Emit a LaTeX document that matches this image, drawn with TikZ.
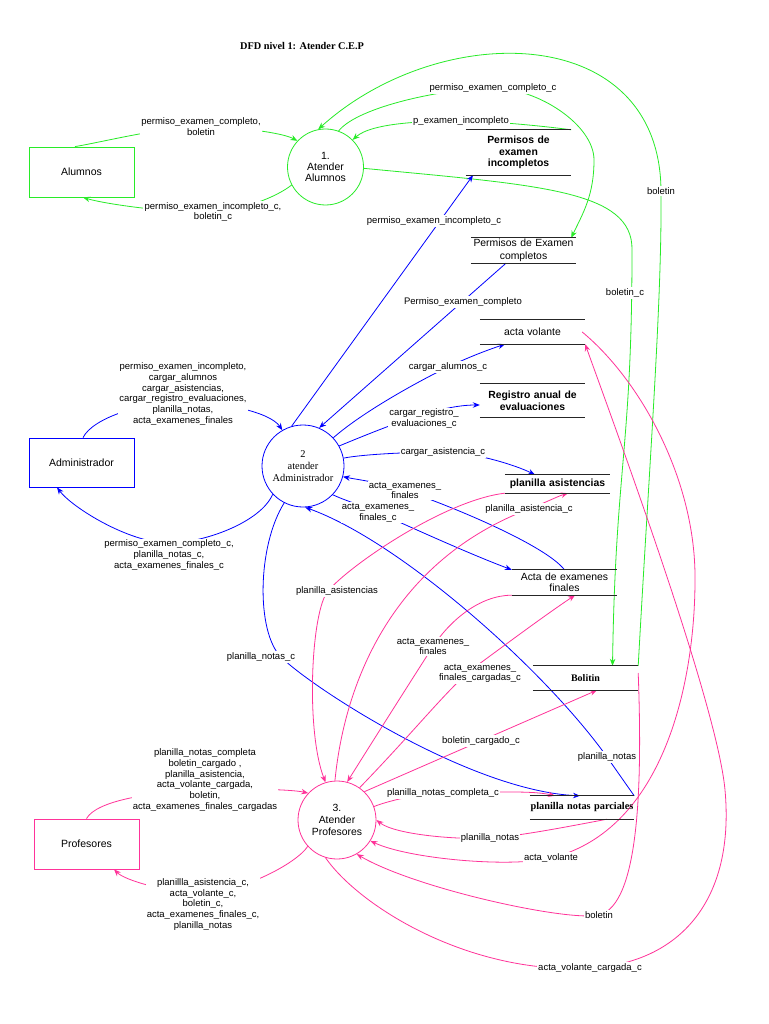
\documentclass[tikz,border=0pt]{standalone}
\usepackage{fontspec}
\setmainfont{Liberation Sans}
\newfontfamily\tnr{Liberation Serif}
\usetikzlibrary{arrows.meta,calc}
\definecolor{cG}{RGB}{40,235,40}
\definecolor{cB}{RGB}{0,0,255}
\definecolor{cP}{RGB}{255,51,153}
\newcommand\lblf{\fontsize{9.5}{10.8}\selectfont}
\newcommand\boxf{\fontsize{10.5}{11.5}\selectfont}
\pgfdeclarelayer{back}
\pgfdeclarelayer{bg}
\pgfsetlayers{back,bg,main}
\begin{document}
\begin{tikzpicture}[x=1pt,y=-1pt,
  lbl/.style={font=\lblf, fill=white, inner sep=1.2pt, align=center},
  ext/.style={draw, rectangle, minimum width=105pt, minimum height=50pt, inner sep=0pt, font=\boxf, line width=0.8pt},
  proc/.style={draw, circle, inner sep=0pt, line width=0.8pt, align=center},
  dstore/.style={inner sep=0pt, text width=105pt, align=center},
  arr/.style={line width=0.8pt, -{Stealth[length=7pt,width=5.5pt]}}
]
\begin{pgfonlayer}{back}
\fill[white] (0,0) rectangle (768,1024);
\end{pgfonlayer}
\useasboundingbox (0,0) rectangle (768,1024);

% title
\node[font=\tnr\bfseries\fontsize{10.3}{12}\selectfont] (title) at (302,46) {DFD nivel 1: Atender C.E.P};

% externals
\node[ext, draw=cG] (alumnos) at (81.5,172) {Alumnos};
\node[ext, draw=cB, minimum height=49pt] (admin) at (81.5,462.5) {Administrador};
\node[ext, draw=cP] (prof) at (86.5,844) {Profesores};

% processes
\node[proc, draw=cG, minimum size=76pt, font=\fontsize{10.5}{11}\selectfont] (p1) at (325.5,167) {1.\\Atender\\Alumnos};
\node[proc, draw=cB, minimum size=82pt, font=\tnr\fontsize{10.4}{12}\selectfont] (p2) at (303,466) {2\\atender\\Administrador};
\node[proc, draw=cP, minimum size=78pt, font=\fontsize{10.4}{12}\selectfont] (p3) at (337,820) {3.\\Atender\\Profesores};

% data stores
\node[dstore, minimum height=45pt, font=\bfseries\fontsize{10.4}{11.5}\selectfont] (s1) at (518.5,152.5) {Permisos de\\examen\\incompletos};
\node[dstore, minimum height=25pt, font=\fontsize{10.4}{13}\selectfont] (s2) at (523.5,250.5) {Permisos de Examen\\completos};
\node[dstore, minimum height=24pt, font=\fontsize{10.4}{12}\selectfont] (s3) at (532.5,332) {acta volante};
\node[dstore, minimum height=33pt, font=\bfseries\fontsize{10.4}{12}\selectfont] (s4) at (532.5,400.5) {Registro anual de\\evaluaciones};
\node[dstore, minimum height=18pt, font=\bfseries\fontsize{10.4}{12}\selectfont] (s5) at (557.5,484) {planilla asistencias};
\node[dstore, minimum height=25pt, font=\fontsize{10.4}{11.5}\selectfont] (s6) at (564.5,582.5) {Acta de examenes\\finales};
\node[dstore, minimum height=24pt, font=\tnr\bfseries\fontsize{10}{12}\selectfont] (s7) at (585.5,678) {Bolitin};
\node[dstore, text width=104pt, minimum height=23pt, font=\tnr\bfseries\fontsize{10.3}{12}\selectfont] (s8) at (582,807.5) {planilla notas parciales};
\foreach \s in {s1,s2,s3,s4,s5,s6,s7,s8}
  \draw[line width=0.8pt, black!85] (\s.north west) -- (\s.north east) (\s.south west) -- (\s.south east);

% labels
\node[lbl] (L1) at (201,127) {permiso\_examen\_completo,\\boletin};
\node[lbl] (L2) at (213,212) {permiso\_examen\_incompleto\_c,\\boletin\_c};
\node[lbl] (L3) at (461,121) {p\_examen\_incompleto};
\node[lbl] (L4) at (493,88) {permiso\_examen\_completo\_c};
\node[lbl] (L5) at (661,191) {boletin};
\node[lbl] (L6) at (625,293) {boletin\_c};
\node[lbl] (L7) at (183,394) {permiso\_examen\_incompleto,\\cargar\_alumnos\\cargar\_asistencias,\\cargar\_registro\_evaluaciones,\\planilla\_notas,\\acta\_examenes\_finales};
\node[lbl] (L8) at (169,555) {permiso\_examen\_completo\_c,\\planilla\_notas\_c,\\acta\_examenes\_finales\_c};
\node[lbl] (L9) at (434,221) {permiso\_examen\_incompleto\_c};
\node[lbl] (L10) at (463,302) {Permiso\_examen\_completo};
\node[lbl] (L11) at (448,367) {cargar\_alumnos\_c};
\node[lbl] (L12) at (424,418.5) {cargar\_registro\_\\evaluaciones\_c};
\node[lbl] (L13) at (443,452) {cargar\_asistencia\_c};
\node[lbl] (L14) at (405,490.5) {acta\_examenes\_\\finales};
\node[lbl] (L15) at (378,512.5) {acta\_examenes\_\\finales\_c};
\node[lbl] (L16) at (607,757) {planilla\_notas};
\node[lbl] (L17) at (261,657) {planilla\_notas\_c};
\node[lbl] (L18) at (205,780) {planilla\_notas\_completa\\boletin\_cargado ,\\planilla\_asistencia,\\acta\_volante\_cargada,\\boletin,\\acta\_examenes\_finales\_cargadas};
\node[lbl] (L19) at (203,904.5) {planillla\_asistencia\_c,\\acta\_volante\_c,\\boletin\_c,\\acta\_examenes\_finales\_c,\\planilla\_notas};
\node[lbl] (L20) at (337,591) {planilla\_asistencias};
\node[lbl] (L21) at (529,509) {planilla\_asistencia\_c};
\node[lbl] (L22) at (433,646.5) {acta\_examenes\_\\finales};
\node[lbl] (L23) at (480,673.5) {acta\_examenes\_\\finales\_cargadas\_c};
\node[lbl] (L24) at (481,741) {boletin\_cargado\_c};
\node[lbl] (L25) at (443,793) {planilla\_notas\_completa\_c};
\node[lbl] (L26) at (490,838) {planilla\_notas};
\node[lbl] (L27) at (551,858) {acta\_volante};
\node[lbl] (L28) at (599,915) {boletin};
\node[lbl] (L29) at (590,968) {acta\_volante\_cargada\_c};

\begin{pgfonlayer}{bg}
% ---- green
\draw[arr,cG] ([xshift=-6.5pt]alumnos.north) .. controls +(30,-5) and +(-40,0) .. (L1.center) .. controls +(40,0) and +(-15,-8) .. (p1.137);
\draw[arr,cG] (p1.208) .. controls +(-15,12) and +(30,-2) .. (L2.center) .. controls +(-30,2) and +(27,8) .. ([xshift=1.5pt]alumnos.south);
\draw[arr,cG] (s1.north east) .. controls +(-30,-4) and +(30,0) .. (L3.center) .. controls +(-30,0) and +(20,-18) .. (p1.45);
\draw[arr,cG] (p1.70) .. controls +(20,-25) and +(-45,0) .. (L4.center) .. controls +(45,0) and +(0,-35) .. (594,160) .. controls +(0,35) and +(12,-25) .. ([xshift=-5pt]s2.north east);
\draw[arr,cG] (s7.north east) .. controls +(12,-216) and +(1,110) .. (L5.center) .. controls +(-1,-170) and +(122,-110) .. (p1.101);
\draw[arr,cG] (p1.-2) .. controls +(176,17) and +(1,-60) .. (632,250) .. controls +(0,200) and +(3,-200) .. ([xshift=27pt]s7.north);
% ---- blue
\draw[arr,cB] ([xshift=1.5pt]admin.north) .. controls +(10,-20) and +(-40,0) .. ([yshift=-8pt]L7.center) .. controls +(40,0) and +(-12,-18) .. (p2.120);
\draw[arr,cB] (p2.223) .. controls +(-12,28) and +(35,0) .. ([yshift=12pt]L8.center) .. controls +(-40,0) and +(15,20) .. ([xshift=-24.5pt]admin.south);
\draw[arr,cB] (p2.106) -- ([xshift=-45.5pt]s1.south);
\draw[arr,cB] ([xshift=-17.5pt]s2.south) -- (p2.67);
\draw[arr,cB] (p2.43) .. controls +(32,-28) and +(-23,11) .. (L11.center) .. controls +(23,-11) and +(-15,5) .. ([xshift=-27.5pt]s3.south);
\draw[arr,cB] (p2.29) .. controls +(51,-21) and +(-40,0) .. ([yshift=-4.5pt]s4.west);
\draw[arr,cB] (p2.11) .. controls +(20,-4) and +(-30,0) .. (L13.center) .. controls +(30,0) and +(-20,-10) .. ([xshift=-22.5pt]s5.north);
\draw[arr,cB] (s6.north) .. controls +(-19.5,-25) and +(45,15) .. (L14.center) .. controls +(-24,-8) and +(15,3) .. (p2.-15);
\draw[arr,cB] (p2.-44) .. controls +(15,7) and +(-15,-7) .. (L15.center) .. controls +(40,18) and +(-40,-15) .. (s6.north west);
\draw[arr,cB] (s8.north east) -- (L16.center) .. controls +(-62,-87) and +(95,34) .. (p2.-87);
\draw[arr,cB] (p2.243) .. controls +(-27,43) and +(-25,-25) .. ([xshift=20pt]L17.center) .. controls +(30,30) and +(-110,-5) .. ([xshift=-2pt]s8.north);
% ---- pink
\draw[arr,cP] (prof.north) .. controls +(10,-18) and +(-55,2) .. ([yshift=-10pt]L18.center) .. controls +(55,-2) and +(-13,-3) .. (p3.137);
\draw[arr,cP] (p3.222) .. controls +(-12,18) and +(37,0) .. ([yshift=12pt]L19.center) .. controls +(-37,0) and +(11,11) .. ([xshift=27.5pt]prof.south);
\draw[arr,cP] (s5.south west) .. controls +(-60,7) and +(22,-26) .. ([xshift=-9pt]L20.center) .. controls +(-17,20) and +(-20,-52) .. (p3.107);
\draw[arr,cP] (p3.93) .. controls +(10,-102) and +(-134,51) .. (L21.center) .. controls +(20,-8) and +(-10,3) .. ([xshift=10.5pt]s5.south);
\draw[arr,cP] (s6.south west) .. controls +(-32,0) and +(17,-26) .. (L22.center) .. controls +(-20,31) and +(20,-32) .. (p3.75);
\draw[arr,cP] (p3.55) .. controls +(58,-60) and +(-25,19) .. ([xshift=-5pt,yshift=6.5pt]L23.center) .. controls +(30,-22) and +(-30,20) .. ([xshift=10.5pt]s6.south);
\draw[arr,cP] (p3.46) -- ([xshift=11.5pt]s7.south);
\draw[arr,cP] (p3.20) .. controls +(12,-5) and +(-23,0) .. (L25.center) .. controls +(37,0) and +(-25,-6) .. ([xshift=-27pt]s8.north);
\draw[arr,cP] ([xshift=25pt]s8.south) .. controls +(-37,7) and +(30,-2) .. (L26.center) .. controls +(-30,2) and +(19,15) .. (p3.0);
\draw[arr,cP] ([xshift=-3pt]s3.east) .. controls +(58,48) and +(1,-100) .. (695,580) .. controls +(0,100) and +(114,-28) .. (L27.center) .. controls +(-40,10) and +(38,18) .. (p3.-32);
\draw[arr,cP] ([yshift=5pt]s7.east) .. controls +(4,107) and +(41,-10) .. (L28.center) .. controls +(-30,7) and +(60,35) .. (p3.-60);
\draw[arr,cP] (p3.253) .. controls +(34,49) and +(-120,7) .. (L29.center) .. controls +(90,-5) and +(10,110) .. (725,790) .. controls +(-8,-88) and +(25,70) .. (s3.south east);
\end{pgfonlayer}
\end{tikzpicture}
\end{document}
